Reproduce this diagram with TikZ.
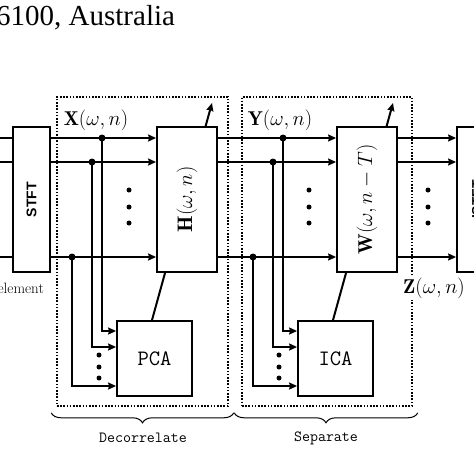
\documentclass[tikz,border=0pt]{standalone}
\usepackage{fontspec}
\usepackage{tikz}
\usetikzlibrary{arrows.meta, positioning, shapes, backgrounds, decorations.pathreplacing}

\newfontfamily\tnrfont{Liberation Serif}
\newfontfamily\helvfont{Liberation Sans}

\tikzset{
  blk/.style={draw, line width=1.8pt, fill=white, inner sep=0pt,
    minimum width=60pt, minimum height=145pt},
  sqblk/.style={draw, line width=1.8pt, fill=white, inner sep=0pt,
    minimum width=75pt, minimum height=75pt, font=\ttfamily\fontsize{22}{24}\selectfont},
  grp/.style={draw, line width=1.6pt, dash pattern=on 1.6pt off 1.6pt,
    minimum width=171pt, minimum height=309pt},
  sig/.style={line width=2pt},
  arr/.style={sig, -{Stealth[length=8pt, width=7pt, inset=1pt]}},
  jdot/.style={circle, fill, inner sep=0pt, minimum size=7pt},
  edot/.style={circle, fill, inner sep=0pt, minimum size=5pt},
  lab/.style={font=\fontsize{20}{22}\selectfont, inner sep=0pt},
  grplab/.style={font=\ttfamily\fontsize{15.5}{17}\selectfont, inner sep=0pt},
  brc/.style={decorate, decoration={brace, mirror, amplitude=10pt}, line width=1pt},
}

\begin{document}
\begin{tikzpicture}[x=1pt, y=-1pt]
  \useasboundingbox (0,0) rectangle (474,474);
  \clip (0,0) rectangle (474,474);

  % cut-off text of the page
  \node[anchor=base west, font=\tnrfont\fontsize{29}{32}\selectfont, inner sep=0pt] (addr) at (-4,25) {6100, Australia};
  \node[anchor=east, font=\fontsize{15}{17}\selectfont, inner sep=0pt] (elem) at (44,288) {element};

  % blocks
  \node[blk, minimum width=37pt] (stft) at (31.5,199.5) {\rotatebox{90}{\helvfont\bfseries\fontsize{14}{16}\selectfont STFT}};
  \node[blk] (hbox) at (187,199.5) {\rotatebox{90}{\fontsize{21}{23}\selectfont$\mathbf{H}(\omega,n)$}};
  \node[blk] (wbox) at (367,199.5) {\rotatebox{90}{\fontsize{20}{22}\selectfont$\mathbf{W}(\omega,n-T)$}};
  \node[blk, minimum width=40pt] (istft) at (477,199.5) {\rotatebox{90}{\helvfont\bfseries\fontsize{14}{16}\selectfont ISTFT}};
  \node[sqblk] (pca) at (154.5,358.5) {PCA};
  \node[sqblk] (ica) at (335.5,358.5) {ICA};

  % stages
  \node[grp] (dec) at (142.5,251.5) {};
  \node[grp, minimum width=170pt] (sep) at (327,251.5) {};

  % signal lines
  \coordinate (x1) at (0,138);
  \coordinate (x2) at (0,162);
  \coordinate (x3) at (0,257);
  \foreach \c in {x1,x2,x3} {
    \draw[sig] (\c) -- (\c -| stft.west);
    \draw[arr] (stft.east |- \c) -- (hbox.west |- \c);
    \draw[arr] (hbox.east |- \c) -- (wbox.west |- \c);
    \draw[arr] (wbox.east |- \c) -- (istft.west |- \c);
  }

  % taps into PCA
  \node[jdot] (xj1) at (102,138) {};
  \node[jdot] (xj2) at (92,162) {};
  \node[jdot] (xj3) at (72,257) {};
  \draw[arr] (xj1.center) |- (pca.west |- 0,331);
  \draw[arr] (xj2.center) |- (pca.west |- 0,347);
  \draw[arr] (xj3.center) |- (pca.west |- 0,386);

  % taps into ICA
  \node[jdot] (yj1) at (283,138) {};
  \node[jdot] (yj2) at (273,162) {};
  \node[jdot] (yj3) at (253,257) {};
  \draw[arr] (yj1.center) |- (ica.west |- 0,331);
  \draw[arr] (yj2.center) |- (ica.west |- 0,347);
  \draw[arr] (yj3.center) |- (ica.west |- 0,386);

  % ellipses
  \foreach \y [count=\i] in {190,207,223} {
    \node[edot] (hd\i) at (129,\y) {};
    \node[edot] (wd\i) at (309,\y) {};
    \node[edot] (zd\i) at (428,\y) {};
  }
  \foreach \y [count=\i] in {355,367,378} {
    \node[edot] (pd\i) at (99,\y) {};
    \node[edot] (id\i) at (279,\y) {};
  }

  % adaptation
  \coordinate (hadj) at (212,103);
  \coordinate (wadj) at (393,103);
  \begin{scope}[on background layer]
    \draw[arr] ([xshift=-2.5pt]pca.north) -- (hadj);
    \draw[arr] ([xshift=-2.5pt]ica.north) -- (wadj);
  \end{scope}

  % labels
  \node[lab] (xlab) at (96,120) {$\mathbf{X}(\omega,n)$};
  \node[lab] (ylab) at (280,120) {$\mathbf{Y}(\omega,n)$};
  \node[lab, fill=white, inner sep=1.5pt] (zlab) at (434,288) {$\mathbf{Z}(\omega,n)$};

  % braces
  \draw[brc] ([xshift=-5pt, yshift=-6pt]dec.south west) -- ([xshift=5pt, yshift=-6pt]dec.south east);
  \draw[brc] ([xshift=-7pt, yshift=-6pt]sep.south west) -- ([xshift=5pt, yshift=-6pt]sep.south east);
  \node[grplab] (declab) at (143,438) {Decorrelate};
  \node[grplab] (seplab) at (326,438) {Separate};
\end{tikzpicture}
\end{document}
